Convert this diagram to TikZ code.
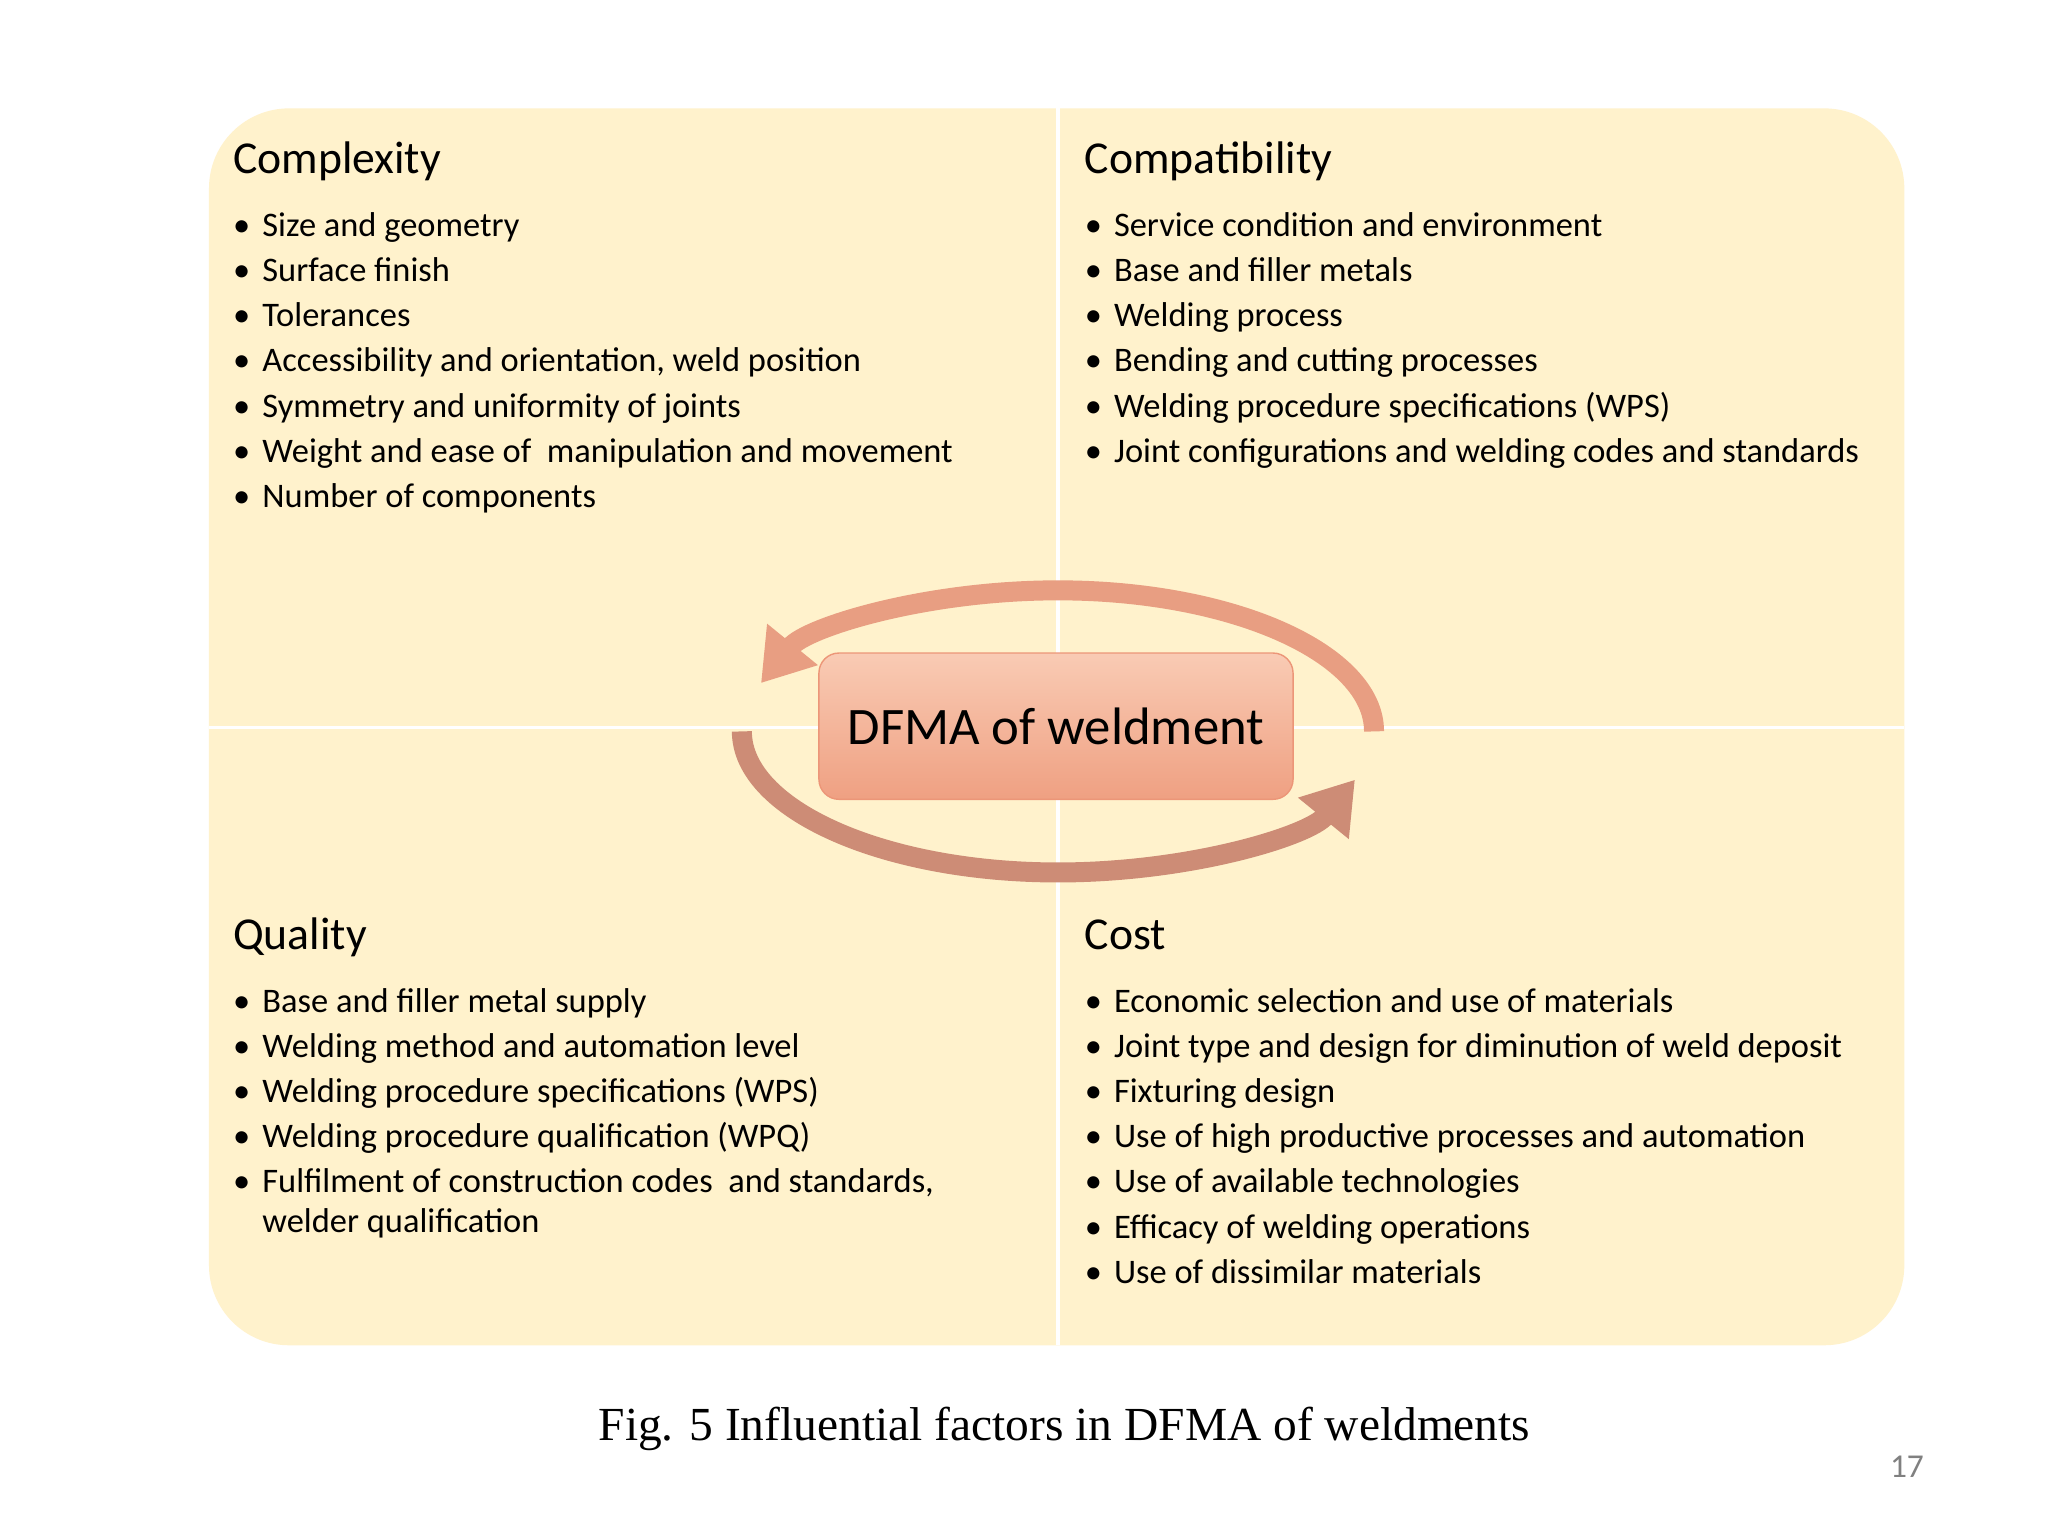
\documentclass[tikz,border=0pt]{standalone}
\usepackage{fontspec}
\setmainfont{Carlito}
\newfontfamily\capfont{Liberation Serif}
\usetikzlibrary{arrows.meta}
\definecolor{panel}{RGB}{255,242,204}
\definecolor{boxtop}{RGB}{249,203,180}
\definecolor{boxbot}{RGB}{239,160,130}
\definecolor{boxline}{RGB}{236,150,120}
\definecolor{arrc}{RGB}{232,158,130}
\definecolor{arrd}{RGB}{205,140,118}
\tikzset{
 title/.style={anchor=base west,inner sep=0pt,font=\fontsize{13}{15}\selectfont},
 item/.style={anchor=base west,inner sep=0pt,font=\fontsize{9.8}{12}\selectfont},
 cyc/.style={line width=0.2cm,-{Triangle[width=0.62cm,length=0.5cm]}}
}
\newcommand{\bl}{\makebox[0.85em][l]{\textbullet}}
\begin{document}
\begin{tikzpicture}[x=0.01306cm,y=0.01306cm]
\useasboundingbox (0,0) rectangle (1568,1176);
\fill[white] (0,0) rectangle (1568,1176);
\fill[panel,rounded corners=0.8cm] (160,146) rectangle (1458,1093);
\draw[white,line width=1pt] (810,146) -- (810,1093);
\draw[white,line width=1pt] (160,619) -- (1458,619);
\node[title] (t1) at (178,1043) {Complexity};
\node[title] (t2) at (830,1043) {Compatibility};
\node[title] (t3) at (178,449) {Quality};
\node[title] (t4) at (830,449) {Cost};
\foreach \t [count=\i] in {Size and geometry,Surface finish,Tolerances,{Accessibility and orientation, weld position},Symmetry and uniformity of joints,Weight and ease of\ \ manipulation and movement,Number of components}
  \node[item] (a\i) at (178,995-34.6*\i+34.6) {\bl\t};
\foreach \t [count=\i] in {Service condition and environment,Base and filler metals,Welding process,Bending and cutting processes,Welding procedure specifications (WPS),Joint configurations and welding codes and standards}
  \node[item] (b\i) at (830,995-34.6*\i+34.6) {\bl\t};
\foreach \t [count=\i] in {Base and filler metal supply,Welding method and automation level,Welding procedure specifications (WPS),Welding procedure qualification (WPQ),{Fulfilment of construction codes\ \ and standards,}}
  \node[item] (c\i) at (178,401-34.6*\i+34.6) {\bl\t};
\node[item] (c6) at (178,232) {\hspace*{0.85em}welder qualification};
\foreach \t [count=\i] in {Economic selection and use of materials,Joint type and design for diminution of weld deposit,Fixturing design,Use of high productive processes and automation,Use of available technologies,Efficacy of welding operations,Use of dissimilar materials}
  \node[item] (d\i) at (830,401-34.6*\i+34.6) {\bl\t};
\draw[cyc,arrc] (1052,616) arc (0:160:242 and 108);
\draw[cyc,arrd] (568,616) arc (180:340:242 and 108);
\node[draw=boxline,rounded corners=0.2cm,top color=boxtop,bottom color=boxbot,minimum width=363*0.01306cm,minimum height=112*0.01306cm,font=\fontsize{15}{18}\selectfont] (c) at (808.5,620) {DFMA of weldment};
\node[anchor=base,inner sep=0pt,font=\capfont\fontsize{13.5}{16}\selectfont] (cap) at (815,73) {Fig. 5 Influential factors in DFMA of weldments};
\node[anchor=base,inner sep=0pt,text=gray,font=\fontsize{9.5}{11}\selectfont] (pg) at (1460,45) {17};
\end{tikzpicture}
\end{document}
